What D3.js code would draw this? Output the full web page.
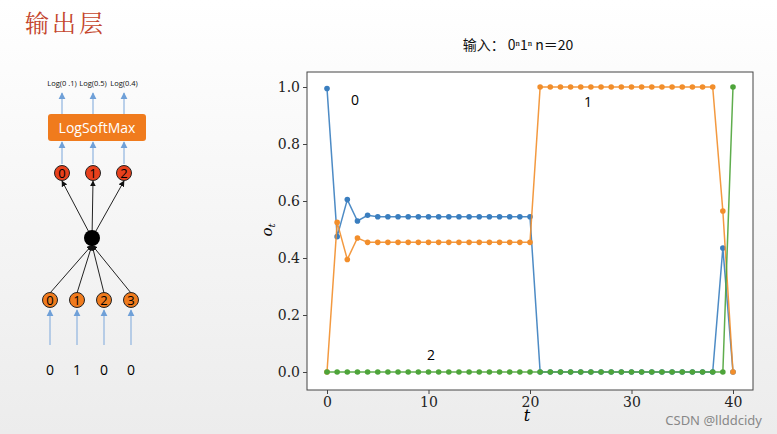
<!DOCTYPE html>
<html><head><meta charset="utf-8">
<script src="https://cdn.jsdelivr.net/npm/d3@7"></script>
<style>body{margin:0;background:#f4f4f4}</style>
</head><body>
<svg width="777" height="434"></svg>
<script>
const steps = d3.range(0, 41)
const flat = (v, n) => Array(n).fill(v)
const series0 = [0.995, 0.475, 0.605, 0.53, 0.55, ...flat(0.545, 16), ...flat(0, 18), 0.435, 0]
const series1 = [0, 0.525, 0.395, 0.47, 0.455, ...flat(0.455, 16), ...flat(1, 18), 0.565, 0]
const series2 = [...flat(0, 40), 1]
const colors = ['#3a7ebf', '#f28e2b', '#4ea43a']
const xTicks = [0, 10, 20, 30, 40]
const yTicks = [0, 0.2, 0.4, 0.6, 0.8, 1.0]
const outLabels = ['Log(0 .1)', 'Log(0.5)', 'Log(0.4)']
const inputs = [0, 1, 0, 0]

const svg = d3.select('svg')
const defs = svg.append('defs')
const grad = defs.append('linearGradient').attr('id', 'bg').attr('x1', 0).attr('y1', 0).attr('x2', 0).attr('y2', 1)
grad.append('stop').attr('offset', 0).attr('stop-color', '#ffffff')
grad.append('stop').attr('offset', 1).attr('stop-color', '#ececec')
svg.append('rect').attr('width', 777).attr('height', 434).attr('fill', 'url(#bg)')
;[['ab', '#6fa0d8'], ['ak', '#111']].forEach(([id, c]) => {
  defs.append('marker').attr('id', id).attr('viewBox', '0 0 10 10').attr('refX', 9).attr('refY', 5)
    .attr('markerWidth', 6).attr('markerHeight', 6).attr('orient', 'auto')
    .append('path').attr('d', 'M0,0L10,5L0,10z').attr('fill', c)
})

// left diagram
svg.append('text').attr('x', 25).attr('y', 32).text('输出层')
  .style('font', '24px "Noto Serif CJK SC", "Noto Sans CJK SC"').attr('fill', '#c4452c').attr('letter-spacing', 3)
const topX = [62, 93, 124]
svg.selectAll('.ol').data(outLabels).join('text').attr('x', (d, i) => topX[i]).attr('y', 86)
  .attr('text-anchor', 'middle').text(d => d).style('font', '7.5px "Open Sans"').attr('fill', '#111')
topX.forEach(x => {
  svg.append('line').attr('x1', x).attr('x2', x).attr('y1', 114).attr('y2', 93)
    .attr('stroke', '#8fb4e0').attr('stroke-width', 1.2).attr('marker-end', 'url(#ab)')
  svg.append('line').attr('x1', x).attr('x2', x).attr('y1', 164).attr('y2', 142)
    .attr('stroke', '#8fb4e0').attr('stroke-width', 1.2).attr('marker-end', 'url(#ab)')
})
svg.append('rect').attr('x', 48).attr('y', 114).attr('width', 98).attr('height', 27).attr('rx', 3).attr('fill', '#f07b1d')
svg.append('text').attr('x', 97).attr('y', 133).attr('text-anchor', 'middle').text('LogSoftMax')
  .style('font', '14px "Open Sans"').attr('fill', '#fff')
const hub = [92, 238]
topX.forEach(x => svg.append('line').attr('x1', hub[0]).attr('y1', hub[1]).attr('x2', x).attr('y2', 181)
  .attr('stroke', '#222').attr('marker-end', 'url(#ak)'))
const botX = [50, 77, 104, 131]
botX.forEach(x => svg.append('line').attr('x1', x).attr('y1', 293).attr('x2', hub[0]).attr('y2', hub[1] + 7)
  .attr('stroke', '#222').attr('marker-end', 'url(#ak)'))
svg.append('circle').attr('cx', hub[0]).attr('cy', hub[1]).attr('r', 8).attr('fill', '#000')
topX.forEach((x, i) => {
  svg.append('circle').attr('cx', x).attr('cy', 173).attr('r', 7.5).attr('fill', '#e8401c').attr('stroke', '#222')
  svg.append('text').attr('x', x).attr('y', 178).attr('text-anchor', 'middle').text(i).style('font', '13px "Open Sans"')
})
botX.forEach((x, i) => {
  svg.append('line').attr('x1', x).attr('x2', x).attr('y1', 345).attr('y2', 310)
    .attr('stroke', '#8fb4e0').attr('stroke-width', 1.2).attr('marker-end', 'url(#ab)')
  svg.append('circle').attr('cx', x).attr('cy', 300).attr('r', 7.5).attr('fill', '#f07b1d').attr('stroke', '#222')
  svg.append('text').attr('x', x).attr('y', 305).attr('text-anchor', 'middle').text(i).style('font', '13px "Open Sans"')
  svg.append('text').attr('x', x).attr('y', 375).attr('text-anchor', 'middle').text(inputs[i]).style('font', '14px "Open Sans"')
})

// chart
svg.append('text').attr('x', 518).attr('y', 50).attr('text-anchor', 'middle').text('输入： 0ⁿ1ⁿ  n＝20')
  .style('font', '14px "Noto Sans CJK SC"').attr('fill', '#111')
const x = d3.scaleLinear().domain([0, 40]).range([327, 733])
const y = d3.scaleLinear().domain([0, 1]).range([372, 87])
svg.append('rect').attr('x', 307).attr('y', 72).attr('width', 446).attr('height', 318).attr('fill', '#fff')
const ax = svg.append('g').attr('transform', 'translate(0,390)').call(d3.axisBottom(x).tickValues(xTicks).tickSize(4))
const ay = svg.append('g').attr('transform', 'translate(307,0)').call(d3.axisLeft(y).tickValues(yTicks).tickFormat(d3.format('.1f')).tickSize(4))
;[ax, ay].forEach(g => {
  g.select('.domain').remove()
  g.selectAll('text').style('font', '14px "DejaVu Serif"').attr('fill', '#222')
  g.selectAll('line').attr('stroke', '#444')
})
svg.append('rect').attr('x', 307).attr('y', 72).attr('width', 446).attr('height', 318)
  .attr('fill', 'none').attr('stroke', '#444')
const line = d3.line().x((d, i) => x(steps[i])).y(d => y(d))
;[series0, series1, series2].forEach((s, k) => {
  const g = svg.append('g')
  g.append('path').attr('d', line(s)).attr('fill', 'none').attr('stroke', colors[k]).attr('stroke-width', 1.5).attr('opacity', 0.9)
  g.selectAll('circle').data(s).join('circle').attr('cx', (d, i) => x(steps[i])).attr('cy', d => y(d))
    .attr('r', 2.8).attr('fill', colors[k])
})
;[['0', 355, 105], ['1', 588, 107], ['2', 431, 360]].forEach(([t, a, b]) =>
  svg.append('text').attr('x', a).attr('y', b).attr('text-anchor', 'middle').text(t).style('font', '14px "Open Sans"'))
svg.append('text').attr('x', 527).attr('y', 421).attr('text-anchor', 'middle').text('t')
  .style('font', 'italic 16px "DejaVu Serif"')
svg.append('text').attr('transform', 'translate(272,230) rotate(-90)').attr('text-anchor', 'middle')
  .style('font', 'italic 15px "DejaVu Serif"').text('o').append('tspan').attr('font-size', 10).attr('dy', 3).text('t')
svg.append('text').attr('x', 762).attr('y', 425).attr('text-anchor', 'end').text('CSDN @llddcidy')
  .style('font', '13px "Noto Sans"').attr('fill', '#888')
</script>
</body></html>
